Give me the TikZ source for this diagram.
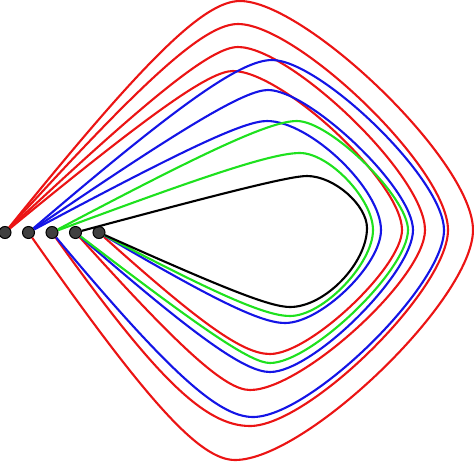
\documentclass[tikz,border=0pt]{standalone}
\usepackage{amsmath, amssymb}
\usepackage{color}
\usepackage{tikz}

\definecolor{loopred}{RGB}{235, 20, 20}
\definecolor{loopblue}{RGB}{20, 20, 230}
\definecolor{loopgreen}{RGB}{30, 225, 30}
\definecolor{dotgray}{RGB}{64, 64, 64}

\begin{document}
\begin{tikzpicture}[x = 0.02cm, y = -0.02cm,
        loopline/.style = {line width = 1.2pt, line join = round},
        dotnode/.style = {circle, draw = black, line width = 0.6pt, fill = dotgray, minimum size = 0.24cm, inner sep = 0pt}]
    \useasboundingbox (0, 0) rectangle (474, 461);
    % the five end points
    \node[dotnode] (d1) at (5, 232.5) {};
    \node[dotnode] (d2) at (28.5, 232.5) {};
    \node[dotnode] (d3) at (52, 232.5) {};
    \node[dotnode] (d4) at (75.5, 232.5) {};
    \node[dotnode] (d5) at (99, 232.5) {};
    % red loops, from d1
    \draw[loopline, color = loopred] (d1) .. controls (145, 59) and (204, 1) .. (240, 1)
        .. controls (305, 1) and (473, 161) .. (473, 230)
        .. controls (473, 299) and (306, 460) .. (235, 460)
        .. controls (200, 460) and (148, 403) .. (d2);
    \draw[loopline, color = loopred] (d1) .. controls (147, 76) and (205, 24) .. (238, 24)
        .. controls (297, 24) and (448, 168) .. (448, 230)
        .. controls (448, 289) and (309, 426) .. (250, 426)
        .. controls (205, 426) and (156, 378) .. (d3);
    \draw[loopline, color = loopred] (d1) .. controls (154, 93) and (212, 47) .. (238, 47)
        .. controls (290, 47) and (425, 175) .. (425, 230)
        .. controls (425, 278) and (302, 390) .. (250, 390)
        .. controls (226, 390) and (182, 351) .. (d4);
    \draw[loopline, color = loopred] (d1) .. controls (153, 111) and (210, 71) .. (233, 71)
        .. controls (282, 71) and (402, 182) .. (402, 230)
        .. controls (402, 267) and (310, 354) .. (270, 354)
        .. controls (243, 354) and (201, 324) .. (d5);
    % blue loops, from d2
    \draw[loopline, color = loopblue] (d2) .. controls (180, 103) and (241, 60) .. (272, 60)
        .. controls (320, 60) and (444, 179) .. (444, 230)
        .. controls (444, 286) and (310, 417) .. (253, 417)
        .. controls (218, 417) and (168, 371) .. (d3);
    \draw[loopline, color = loopblue] (d2) .. controls (185, 126) and (245, 90) .. (268, 90)
        .. controls (309, 90) and (413, 188) .. (413, 230)
        .. controls (413, 273) and (313, 372) .. (270, 372)
        .. controls (245, 372) and (196, 337) .. (d4);
    \draw[loopline, color = loopblue] (d2) .. controls (185, 149) and (244, 121) .. (267, 121)
        .. controls (310, 121) and (381, 189) .. (381, 230)
        .. controls (381, 265) and (321, 323) .. (285, 323)
        .. controls (261, 323) and (214, 300) .. (d5);
    % green loops, from d3
    \draw[loopline, color = loopgreen] (d3) .. controls (210, 149) and (271, 121) .. (297, 121)
        .. controls (330, 121) and (408, 197) .. (408, 230)
        .. controls (408, 270) and (311, 363) .. (270, 363)
        .. controls (251, 363) and (203, 330) .. (d4);
    \draw[loopline, color = loopgreen] (d3) .. controls (212, 173) and (274, 153) .. (300, 153)
        .. controls (329, 153) and (373, 199) .. (373, 230)
        .. controls (373, 264) and (323, 316) .. (290, 316)
        .. controls (266, 316) and (218, 295) .. (d5);
    % black loop, from d4
    \draw[loopline, color = black] (d4) .. controls (234, 190) and (291, 176) .. (307, 176)
        .. controls (334, 176) and (367, 205) .. (367, 228)
        .. controls (367, 263) and (325, 307) .. (290, 307)
        .. controls (270, 307) and (223, 288) .. (d5);
\end{tikzpicture}
\end{document}
